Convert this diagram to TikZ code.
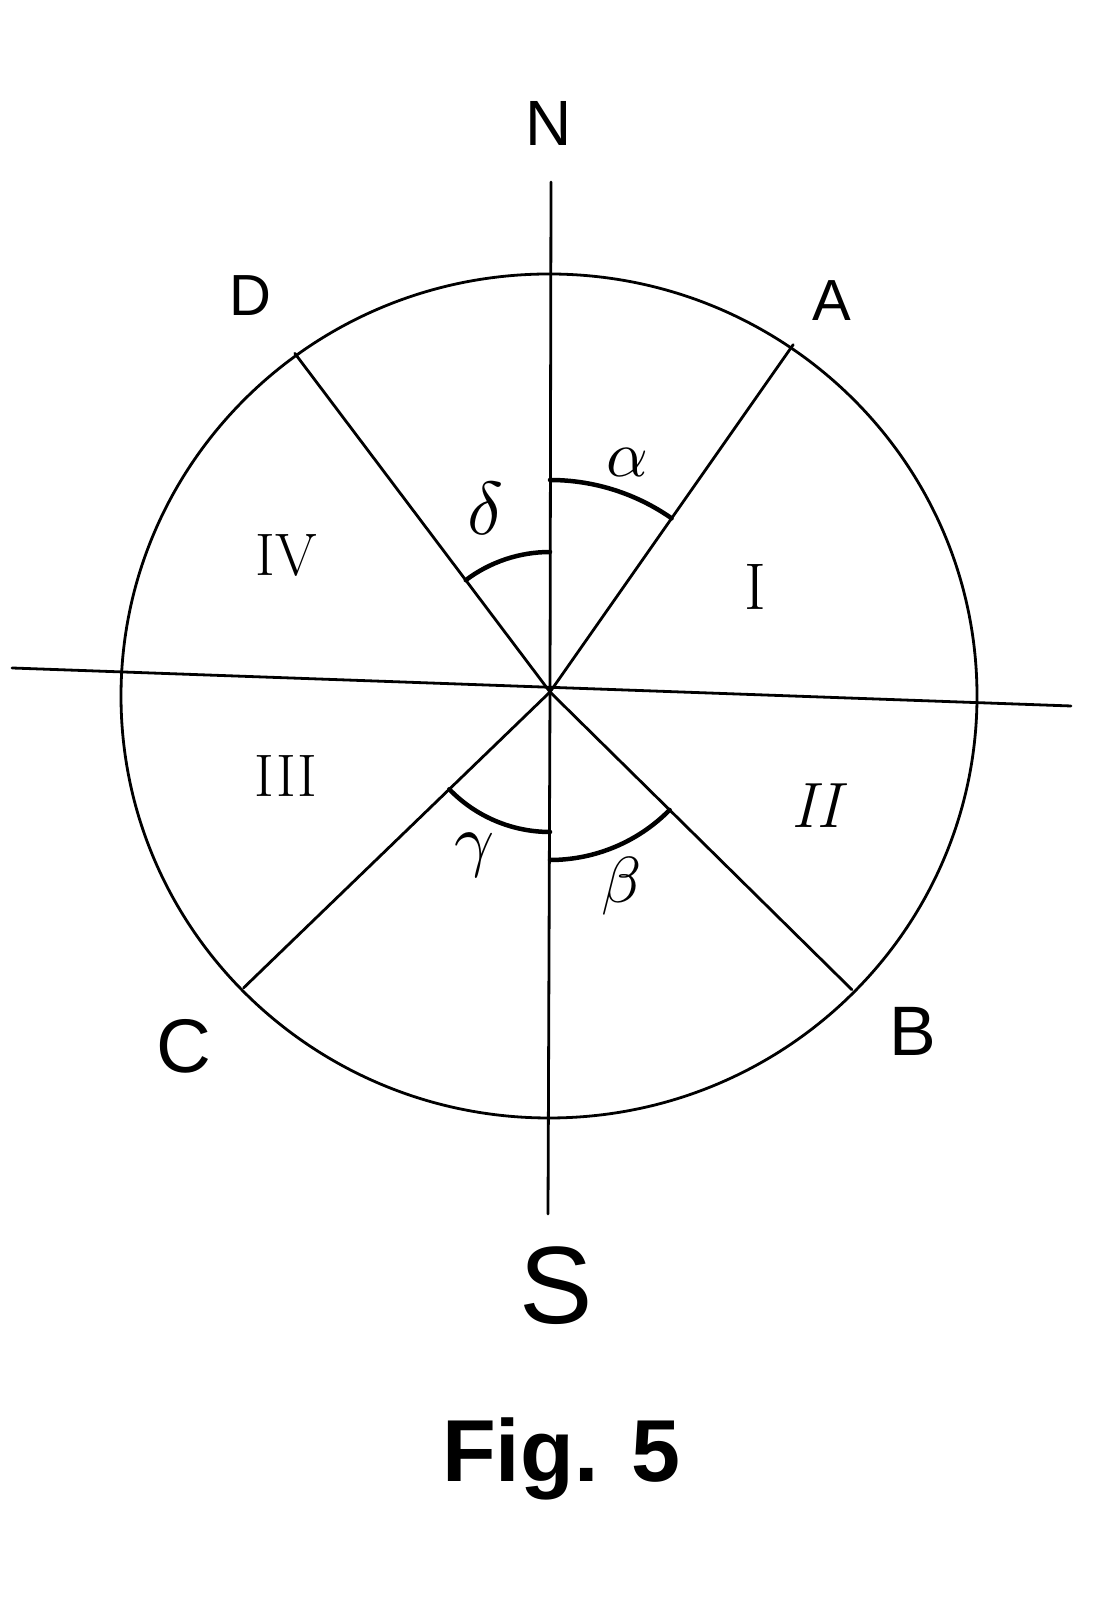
\documentclass[tikz,border=0pt]{standalone}
\usepackage{fontspec}
\usetikzlibrary{calc}
\newfontfamily\lettfont{Liberation Sans}
\begin{document}
\begin{tikzpicture}[x=1pt,y=1pt,
  ln/.style={line width=2.8pt,line cap=round},
  arcln/.style={line width=4.5pt,line cap=round},
  pt/.style={font=\lettfont\fontsize{#1}{#1}\selectfont,inner sep=0pt},
  rn/.style={font=\fontsize{#1}{#1}\selectfont,inner sep=0pt},
  gk/.style={inner sep=0pt,scale=#1}]
\useasboundingbox (0,0) rectangle (1100,1600);
\fill[white] (0,0) rectangle (1100,1600);
% centre and ends
\coordinate (O) at (550,908);
\coordinate (Ntop) at (551,1418);
\coordinate (Sbot) at (548,386);
\coordinate (Wend) at (12,932);
\coordinate (Eend) at (1071,894);
\coordinate (Apt) at ($(O)+(55:424)$);
\coordinate (Dpt) at ($(O)+(127:424)$);
\coordinate (Cpt) at ($(O)+(224:426)$);
\coordinate (Bpt) at ($(O)+(-44.6:424)$);
% circle
\draw[ln] (549,904) ellipse [x radius=428, y radius=422];
% axes
\draw[ln] (Ntop) -- (O) -- (Sbot);
\draw[ln] (Wend) -- (Eend);
% spokes
\draw[ln] (O) -- (Apt);
\draw[ln] (O) -- (Dpt);
\draw[ln] (O) -- (Cpt);
\draw[ln] (O) -- (Bpt);
% angle arcs
\draw[arcln] ($(O)+(90:212)$) arc[start angle=90,end angle=55,radius=212];
\draw[arcln] ($(O)+(90:140)$) arc[start angle=90,end angle=127,radius=140];
\draw[arcln] ($(O)+(270:140)$) arc[start angle=270,end angle=224,radius=140];
\draw[arcln] ($(O)+(270:168)$) arc[start angle=270,end angle=315.4,radius=168];
% compass letters
\node[pt=64] (N) at (549,1476) {N};
\node[pt=58] (A) at (832,1299) {A};
\node[pt=58] (D) at (250,1304) {D};
\node[pt=76] (C) at (184,554) {C};
\node[pt=70] (B) at (913,569) {B};
\node[pt=110] (S) at (556,314) {S};
\node[font=\lettfont\bfseries\fontsize{88}{88}\selectfont,inner sep=0pt] (fig) at (561,141) {Fig. 5};
% sector numerals
\node[rn=60] (IV) at (286,1044) {IV};
\node[rn=66] (I) at (755,1013) {I};
\node[rn=60] (III) at (286,824) {III};
\node[rn=64] (II) at (816,794) {\itshape II};
% greek
\node[gk=6.5] (al) at (627,1137) {$\alpha$};
\node[gk=7.5] (de) at (486,1092) {$\delta$};
\node[gk=7] (ga) at (475,745) {$\gamma$};
\node[gk=6.5] (be) at (622,714) {$\beta$};
\end{tikzpicture}
\end{document}
